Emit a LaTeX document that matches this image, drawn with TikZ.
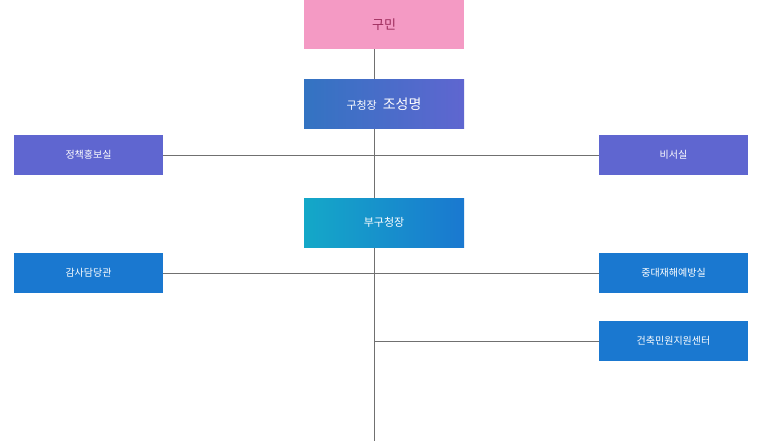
\documentclass[tikz,border=0pt]{standalone}
\usepackage{fontspec}
\setmainfont{Noto Sans CJK KR}
\usetikzlibrary{backgrounds}
\definecolor{pinkbox}{HTML}{F49AC4}
\definecolor{pinktext}{HTML}{9B2A5A}
\definecolor{violetbox}{HTML}{5F66D0}
\definecolor{bluebox}{HTML}{1A78D0}
\definecolor{linegray}{HTML}{707070}
\tikzset{
  topbox/.style={minimum width=160pt,minimum height=49pt,inner sep=0pt,font=\fontsize{11}{13}\selectfont},
  sidebox/.style={minimum width=149pt,minimum height=40pt,inner sep=0pt,text=white,font=\fontsize{10}{12}\selectfont},
  link/.style={draw=linegray,line width=0.8pt}
}
\begin{document}
\begin{tikzpicture}[x=1pt,y=-1pt]
\useasboundingbox (0,0) rectangle (763,441);

\node[topbox,fill=pinkbox,text=pinktext,font=\fontsize{13}{15}\selectfont] (gumin) at (384,24.5) {구민};
\node[topbox,left color=blue!55!cyan!70!black!80!white,right color=violetbox,text=white] (chief) at (384,104.5) {구청장\hspace{6pt}{\fontsize{14}{16}\selectfont 조성명}};
\node[topbox,left color={rgb,255:red,20;green,168;blue,200},right color=bluebox,text=white] (deputy) at (384,222.5) {부구청장};

\node[sidebox,fill=violetbox] (policy) at (88.5,155) {정책홍보실};
\node[sidebox,fill=violetbox] (secret) at (673.5,155) {비서실};
\node[sidebox,fill=bluebox] (audit) at (88.5,273) {감사담당관};
\node[sidebox,fill=bluebox] (safety) at (673.5,273) {중대재해예방실};
\node[sidebox,fill=bluebox] (build) at (673.5,341) {건축민원지원센터};

\coordinate (bottom) at (374,441);
\coordinate (tap) at (374,341);

\begin{scope}[on background layer]
\draw[link] (gumin.south -| bottom) -- (bottom);
\draw[link] (policy) -- (secret);
\draw[link] (audit) -- (safety);
\draw[link] (tap) -- (build);
\end{scope}
\end{tikzpicture}
\end{document}
